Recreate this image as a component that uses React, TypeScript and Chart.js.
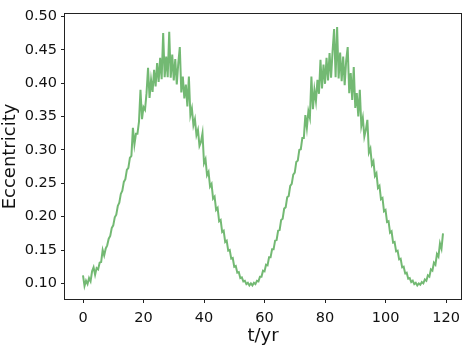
import { useEffect, useRef } from "react";
import { Chart, registerables } from "chart.js";

Chart.register(...registerables);

// time grid: t = 0, 0.5, 1.0, ... 119 (years)
const T_STEP = 0.5;

// eccentricity values, one per half-year
const eccentricity: number[] = [
  0.112, 0.096, 0.104, 0.099, 0.108, 0.103, 0.118, 0.124, 0.113, 0.123,
  0.121, 0.131, 0.132, 0.150, 0.142, 0.152, 0.157, 0.167, 0.171, 0.183,
  0.187, 0.199, 0.203, 0.216, 0.221, 0.234, 0.239, 0.252, 0.256, 0.270,
  0.273, 0.288, 0.291, 0.333, 0.308, 0.324, 0.324, 0.342, 0.390, 0.346,
  0.364, 0.360, 0.385, 0.423, 0.378, 0.405, 0.387, 0.420, 0.395, 0.430,
  0.402, 0.438, 0.406, 0.475, 0.409, 0.440,
  0.409, 0.477, 0.408, 0.443, 0.404, 0.436, 0.398, 0.430, 0.454, 0.386,
  0.410, 0.377, 0.398, 0.365, 0.410, 0.352, 0.362, 0.337, 0.346, 0.322,
  0.330, 0.306, 0.312, 0.325, 0.280, 0.286, 0.262, 0.267, 0.245, 0.249,
  0.227, 0.230, 0.210, 0.213, 0.193, 0.195, 0.177, 0.179, 0.162, 0.164,
  0.149, 0.150, 0.137, 0.138, 0.125, 0.126, 0.116, 0.117, 0.108, 0.109,
  0.103, 0.104, 0.099, 0.101, 0.097, 0.100, 0.097, 0.101, 0.099, 0.104,
  0.103, 0.110, 0.110, 0.119, 0.118, 0.128, 0.127, 0.139, 0.139, 0.151,
  0.151, 0.164, 0.165, 0.179, 0.180, 0.195, 0.197, 0.212, 0.214, 0.229,
  0.231, 0.246, 0.249, 0.263, 0.266, 0.282, 0.284, 0.300, 0.301, 0.318,
  0.318, 0.352, 0.333, 0.358, 0.348, 0.410, 0.361, 0.390, 0.373, 0.405,
  0.384, 0.435, 0.392, 0.428, 0.399, 0.438, 0.404, 0.445, 0.408, 0.448,
  0.481, 0.409, 0.484, 0.407, 0.446, 0.403, 0.440, 0.397, 0.434, 0.454,
  0.385, 0.415, 0.375, 0.424, 0.363, 0.385, 0.350, 0.390, 0.336, 0.348,
  0.320, 0.330, 0.345, 0.296, 0.302, 0.278, 0.283, 0.261, 0.265, 0.243,
  0.246, 0.226, 0.228, 0.208, 0.210, 0.192, 0.193, 0.176, 0.178, 0.161,
  0.162, 0.148, 0.149, 0.136, 0.137, 0.124, 0.125, 0.115, 0.116, 0.107,
  0.108, 0.102, 0.104, 0.099, 0.101, 0.097, 0.100, 0.098, 0.102, 0.100,
  0.106, 0.104, 0.112, 0.110, 0.121, 0.119, 0.131, 0.128, 0.144, 0.140,
  0.160, 0.152, 0.175,
];

const times: number[] = eccentricity.map((_, i) => i * T_STEP);

const xTicks = [0, 20, 40, 60, 80, 100, 120];
const yTicks = [0.1, 0.15, 0.2, 0.25, 0.3, 0.35, 0.4, 0.45, 0.5];

const X_MIN = -5.95;
const X_MAX = 124.95;
const Y_MIN = 0.0766;
const Y_MAX = 0.5036;

const FONT = "'DejaVu Sans', sans-serif";

const frame = {
  id: "frame",
  afterDraw(chart: any) {
    const { ctx, chartArea } = chart;
    ctx.save();
    ctx.strokeStyle = "#222";
    ctx.lineWidth = 1;
    ctx.strokeRect(
      Math.round(chartArea.left) - 0.5,
      Math.round(chartArea.top) - 0.5,
      Math.round(chartArea.right - chartArea.left) + 1,
      Math.round(chartArea.bottom - chartArea.top) + 1
    );
    ctx.restore();
  },
};

export default function App() {
  const ref = useRef<HTMLCanvasElement | null>(null);

  useEffect(() => {
    if (!ref.current) return;
    const chart = new Chart(ref.current, {
      type: "line",
      data: {
        datasets: [
          {
            data: times.map((t, i) => ({ x: t, y: eccentricity[i] })),
            borderColor: "rgba(0,128,0,0.55)",
            borderWidth: 2,
            pointRadius: 0,
            tension: 0,
            fill: false,
          },
        ],
      },
      options: {
        animation: false,
        responsive: false,
        devicePixelRatio: 1,
        layout: { padding: { top: 14, right: 13, left: 0, bottom: 0 } },
        plugins: {
          legend: { display: false },
          tooltip: { enabled: false },
        },
        scales: {
          x: {
            type: "linear",
            min: X_MIN,
            max: X_MAX,
            afterBuildTicks: (s: any) => {
              s.ticks = xTicks.map((v) => ({ value: v }));
            },
            afterFit: (s: any) => {
              s.height = 56;
            },
            border: { display: false },
            grid: {
              display: true,
              drawOnChartArea: false,
              drawTicks: true,
              tickLength: 4,
              color: "#222",
            },
            ticks: {
              color: "#111",
              font: { family: FONT, size: 14.5 },
              padding: 7,
              maxRotation: 0,
              autoSkip: false,
              callback: (v: any) => String(v),
            },
            title: {
              display: true,
              text: "t/yr",
              color: "#111",
              font: { family: FONT, size: 18 },
              padding: { top: 0, bottom: 8 },
            },
          },
          y: {
            type: "linear",
            min: Y_MIN,
            max: Y_MAX,
            afterBuildTicks: (s: any) => {
              s.ticks = yTicks.map((v) => ({ value: v }));
            },
            afterFit: (s: any) => {
              s.width = 65;
            },
            border: { display: false },
            grid: {
              display: true,
              drawOnChartArea: false,
              drawTicks: true,
              tickLength: 4,
              color: "#222",
            },
            ticks: {
              color: "#111",
              font: { family: FONT, size: 14.5 },
              padding: 4,
              autoSkip: false,
              callback: (v: any) => Number(v).toFixed(2),
            },
            title: {
              display: true,
              text: "Eccentricity",
              color: "#111",
              font: { family: FONT, size: 18 },
              padding: { top: 0, bottom: 0 },
            },
          },
        },
      },
      plugins: [frame],
    });
    return () => chart.destroy();
  }, []);

  return (
    <div style={{ position: "absolute", left: 0, top: 0, width: 474, height: 355, background: "#fff" }}>
      <canvas ref={ref} width={474} height={355} style={{ width: 474, height: 355, display: "block" }} />
    </div>
  );
}
